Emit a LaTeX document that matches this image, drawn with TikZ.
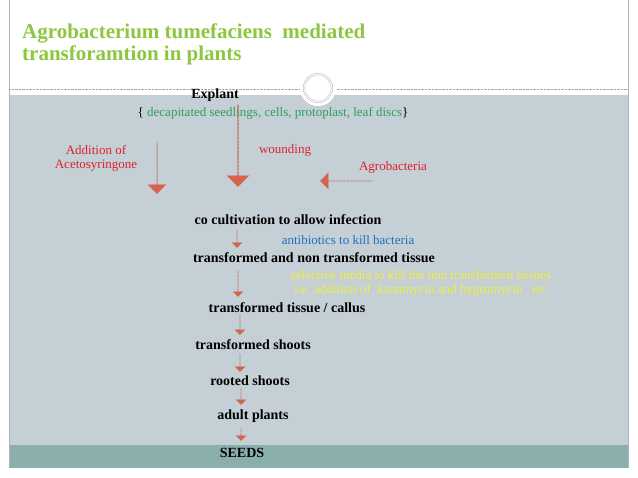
\documentclass[tikz,border=0pt]{standalone}
\usepackage{fontspec}
\setmainfont{Liberation Serif}
\usetikzlibrary{shapes.arrows}
\definecolor{panel}{HTML}{C5D0D6}
\definecolor{barc}{HTML}{8AAFAD}
\definecolor{titlec}{HTML}{8DC63F}
\definecolor{arrowc}{HTML}{D9634A}
\definecolor{greenc}{HTML}{2E9E5A}
\definecolor{redc}{HTML}{E0202A}
\definecolor{bluec}{HTML}{1F6FC0}
\definecolor{yellowc}{HTML}{F2EE3A}
\tikzset{
stage/.style={font=\fontsize{14}{16}\selectfont\bfseries, inner sep=1pt},
note/.style={font=\fontsize{13}{14}\selectfont, inner sep=1pt},
blk/.style={single arrow, draw=arrowc!80!black, densely dotted, fill=arrowc, minimum height=#1, single arrow head extend=4pt, inner sep=0pt, minimum width=10pt, shape border rotate=270, anchor=tip},
big/.style={single arrow, draw=arrowc!80!black, densely dotted, fill=arrowc, single arrow head extend=7pt, inner sep=0pt, minimum width=22pt, minimum height=#1, anchor=tip}
}
\begin{document}
\begin{tikzpicture}[x=1pt,y=-1pt]
\useasboundingbox (0,0) rectangle (638,478);
\fill[white] (0,0) rectangle (638,478);
% frame and panels
\fill[panel] (9,95) rectangle (628,445);
\fill[barc] (9,445) rectangle (628,468);
\draw[gray!60] (9,0) -- (9,468) (628,0) -- (628,468);
\draw[gray!70, densely dotted] (9,89) -- (628,89);
\fill[white] (318,88) circle (18);
\draw[gray!70, double=white, double distance=1.2pt] (318,88) circle (14);
% title
\node[anchor=west, text=titlec, font=\fontsize{21}{23}\selectfont\bfseries, align=left, inner sep=0pt] (title) at (22,44) {Agrobacterium tumefaciens\ \ mediated\\[-1pt]transforamtion in plants};
% explant
\node[stage] (explant) at (215,95) {Explant};
\node[note] (types) at (273,113) {\{ \textcolor{greenc}{decapitated seedlings, cells, protoplast, leaf discs}\}};
\node[note, text=redc, align=center] (acet) at (96,158) {Addition of\\Acetosyringone};
\node[note, text=redc] (wound) at (285,150) {wounding};
\node[note, text=redc] (agro) at (393,167) {Agrobacteria};
% big arrows
\node[big=82pt, shape border rotate=270] (a1) at (238,187) {};
\node[big=52pt, minimum width=18pt, shape border rotate=307] (a2) at (157,194) {};
\node[big=52pt, minimum width=16pt, shape border rotate=224] (a3) at (320,181) {};
% stages
\node[stage] (s1) at (288,220) {co cultivation to allow infection};
\node[note, text=bluec] (n1) at (348,240) {antibiotics to kill bacteria};
\node[stage] (s2) at (314,258) {transformed and non transformed tissue};
\node[note, text=yellowc, align=left] (n2) at (421,283) {selective media to kill the non transformed tissues\\\ i.e. addition of\ \ kanamycin and hygromycin\ \ \ etc};
\node[stage] (s3) at (287,308) {transformed tissue / callus};
\node[stage] (s4) at (253,345) {transformed shoots};
\node[stage] (s5) at (250,381) {rooted shoots};
\node[stage] (s6) at (253,416) {adult plants};
\node[stage] (s7) at (242,453) {SEEDS};
% small arrows
\node[blk=18pt] (b1) at (237,248) {};
\node[blk=26pt] (b2) at (238,297) {};
\node[blk=20pt] (b3) at (240,335) {};
\node[blk=18pt] (b4) at (240,372) {};
\node[blk=16pt] (b5) at (241,405) {};
\node[blk=12pt] (b6) at (241,441) {};
\end{tikzpicture}
\end{document}
